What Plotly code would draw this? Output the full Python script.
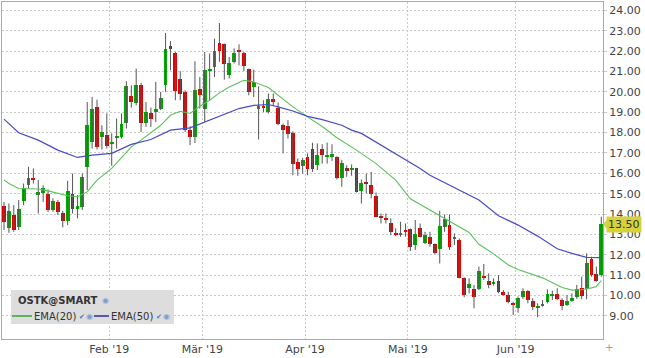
import plotly.graph_objects as go
import pandas as pd

# ---------------- data ----------------
holidays = ["2019-01-01", "2019-01-21", "2019-02-18", "2019-04-19", "2019-05-27"]
dates = [d.strftime("%Y-%m-%d") for d in
         pd.bdate_range("2018-12-31", "2019-06-26", freq="C", holidays=holidays)]

opens = [14.39, 13.30, 13.98, 13.38, 14.65, 15.42, 15.76, 14.95, 15.06, 15.01,
         14.20, 14.57, 14.06, 13.67, 15.01, 14.23, 14.36, 16.32, 17.54, 19.26,
         17.76, 17.87, 17.43, 17.74, 17.76, 18.45, 19.78, 19.43, 20.32, 18.48,
         18.97, 18.99, 19.18, 20.32, 22.24, 21.93, 20.65, 19.97, 18.12, 17.76,
         20.13, 19.18, 21.02, 21.22, 22.42, 22.33, 20.82, 21.47, 22.04, 21.91,
         21.11, 20.24, 19.18, 19.29, 18.99, 19.64, 19.21, 18.36, 18.33, 18.00,
         16.56, 16.37, 16.81, 17.19, 16.40, 17.19, 16.81, 16.79, 16.81, 15.75,
         16.24, 16.16, 16.24, 15.13, 15.58, 15.42, 14.88, 13.90, 13.82, 13.57,
         13.08, 13.00, 13.22, 13.26, 12.48, 13.30, 12.59, 12.86, 12.53, 12.28,
         13.38, 13.46, 12.79, 12.73, 10.88, 10.39, 10.31, 10.31, 10.98, 10.73,
         10.60, 10.72, 10.16, 10.03, 9.62, 9.38, 9.95, 10.24, 9.75, 9.41,
         9.50, 9.67, 10.00, 10.09, 9.78, 9.52, 9.75, 9.95, 10.36, 10.31,
         11.79, 11.06, 11.01]
highs = [14.60, 14.52, 14.44, 14.69, 15.50, 16.32, 16.24, 15.67, 15.42, 15.21,
         14.77, 14.69, 14.16, 15.63, 15.99, 14.93, 15.99, 19.50, 19.75, 19.62,
         18.36, 18.94, 17.96, 18.69, 18.94, 20.52, 20.32, 21.14, 20.44, 19.50,
         19.23, 20.49, 20.00, 22.89, 22.49, 21.96, 21.01, 20.08, 18.31, 21.50,
         20.73, 21.96, 21.88, 22.61, 23.38, 22.37, 21.71, 22.13, 22.33, 21.96,
         21.14, 21.09, 20.27, 19.59, 19.92, 19.92, 19.48, 18.45, 18.61, 18.07,
         16.73, 16.76, 16.98, 17.50, 17.47, 17.43, 17.51, 17.43, 16.84, 16.65,
         16.40, 16.44, 16.27, 15.70, 15.99, 16.07, 15.06, 14.03, 14.03, 13.79,
         13.30, 13.62, 13.54, 13.30, 13.71, 13.54, 13.13, 13.13, 12.56, 14.16,
         13.98, 13.98, 13.05, 12.81, 10.90, 10.85, 10.52, 11.42, 11.55, 11.09,
         10.85, 11.01, 10.27, 10.19, 9.70, 9.95, 10.36, 10.27, 9.87, 9.62,
         9.78, 10.31, 10.24, 10.36, 9.87, 10.03, 10.11, 10.52, 10.93, 12.07,
         11.91, 11.42, 13.87]
lows = [13.22, 13.08, 13.13, 13.22, 14.44, 15.26, 15.50, 14.03, 14.60, 14.11,
        14.11, 13.95, 13.35, 13.46, 14.03, 13.79, 14.20, 15.18, 17.22, 17.17,
        17.17, 17.22, 16.37, 17.22, 17.71, 18.20, 19.23, 19.34, 18.03, 18.28,
        18.28, 18.52, 19.10, 20.00, 21.06, 19.59, 19.59, 18.03, 17.38, 17.49,
        19.18, 18.52, 19.59, 20.73, 21.47, 20.60, 20.65, 21.39, 21.30, 21.02,
        19.83, 19.75, 17.66, 19.01, 18.94, 19.34, 18.36, 16.98, 17.71, 15.91,
        15.88, 15.99, 15.91, 16.07, 16.16, 16.48, 16.48, 16.61, 15.70, 15.34,
        15.83, 15.88, 15.06, 14.52, 15.01, 14.77, 13.84, 13.54, 13.54, 12.97,
        12.92, 12.89, 12.89, 12.19, 12.24, 12.86, 12.53, 12.40, 12.04, 11.58,
        13.13, 12.24, 12.48, 10.85, 9.92, 10.11, 9.38, 10.27, 10.77, 10.36,
        10.49, 10.11, 10.00, 9.62, 9.05, 9.16, 9.84, 9.62, 9.29, 8.94,
        9.46, 9.62, 9.78, 9.78, 9.29, 9.49, 9.70, 9.84, 9.82, 9.82,
        10.93, 10.68, 10.93]
closes = [13.62, 14.15, 13.22, 14.24, 15.26, 15.75, 15.65, 15.08, 15.26, 14.20,
          14.65, 14.11, 13.67, 15.13, 14.23, 14.39, 15.80, 18.36, 19.15, 17.30,
          18.03, 17.33, 17.54, 17.84, 18.41, 20.27, 19.50, 20.36, 18.45, 19.02,
          18.69, 19.15, 19.72, 22.12, 22.09, 20.03, 19.90, 18.12, 17.79, 20.08,
          19.83, 21.06, 21.14, 22.00, 22.00, 21.39, 21.44, 21.91, 21.94, 21.25,
          20.00, 20.46, 19.31, 19.23, 19.64, 19.50, 18.40, 18.12, 17.91, 16.48,
          16.21, 16.65, 16.19, 16.19, 16.89, 16.89, 16.89, 16.93, 15.75, 16.53,
          16.12, 16.27, 15.09, 15.53, 15.50, 15.01, 13.87, 13.82, 13.74, 13.13,
          13.02, 13.08, 13.13, 12.40, 13.02, 12.89, 12.97, 12.53, 12.07, 13.43,
          13.75, 12.40, 12.86, 10.88, 10.03, 10.57, 9.92, 11.21, 10.85, 10.52,
          10.65, 10.19, 10.03, 9.70, 9.55, 9.90, 10.23, 9.78, 9.43, 9.51,
          9.57, 10.06, 10.05, 9.83, 9.49, 9.75, 9.90, 10.31, 9.98, 11.58,
          11.01, 10.73, 13.50]

# EMA values at selected bars (bar index -> value)
ema20_idx = [0, 1, 3, 5, 7, 9, 11, 13, 15, 17, 19, 22, 26, 28, 32, 34, 36, 38, 40,
             42, 44, 46, 49, 51, 54, 56, 59, 62, 65, 68, 72, 76, 80, 83, 87, 90, 92,
             95, 97, 100, 103, 105, 110, 114, 116, 118, 120, 121, 122]
ema20_val = [15.68, 15.50, 15.26, 15.26, 15.23, 15.14, 15.01, 14.90, 14.85, 15.09,
             15.67, 16.24, 17.30, 17.63, 18.36, 18.85, 19.05, 18.94, 19.29, 19.59,
             19.95, 20.24, 20.57, 20.49, 20.21, 19.83, 19.26, 18.77, 18.30, 17.75,
             17.14, 16.48, 15.67, 14.75, 14.20, 13.81, 13.54, 13.10, 12.52, 12.05,
             11.50, 11.28, 10.87, 10.40, 10.27, 10.29, 10.38, 10.45, 10.74]
ema50_idx = [0, 3, 7, 11, 15, 18, 22, 26, 30, 34, 38, 42, 44, 48, 51, 54, 56, 59,
             62, 65, 69, 71, 73, 77, 81, 85, 87, 93, 97, 101, 105, 109, 113, 116,
             119, 122]
ema50_val = [18.66, 17.99, 17.63, 17.14, 16.78, 16.89, 16.98, 17.42, 17.66, 18.12,
             18.23, 18.61, 18.78, 19.18, 19.34, 19.38, 19.26, 19.06, 18.80, 18.64,
             18.36, 18.12, 17.96, 17.40, 16.84, 16.24, 15.91, 15.18, 14.69, 13.92,
             13.46, 12.92, 12.30, 12.07, 11.88, 11.86]

month_names = {2: "Feb '19", 3: "Mär '19", 4: "Apr '19", 5: "Mai '19", 6: "Jun '19"}
y_ticks = list(range(9, 25))
symbol = "OSTK@SMART"
last_price = closes[-1]

# ---------------- styling ----------------
FONT = "DejaVu Sans"
GREEN = "#00aa00"
RED = "#e00000"
WICK = "#555555"
GRID = "#c8c8c8"
Y_MIN, Y_MAX = 7.87, 24.41
W, H = 645, 358
ML, MR, MT, MB = 2, 42, 2, 19

n = len(dates)
xs = list(range(n))

# month boundary positions
tick_pos, tick_txt = [], []
for i in range(1, n):
    m_prev, m_cur = int(dates[i - 1][5:7]), int(dates[i][5:7])
    if m_cur != m_prev and m_cur in month_names:
        tick_pos.append(i - 0.5)
        tick_txt.append(month_names[m_cur])

fig = go.Figure()

# wicks
wx, wy = [], []
for i in xs:
    wx += [i, i, None]
    wy += [lows[i], highs[i], None]
fig.add_trace(go.Scatter(x=wx, y=wy, mode="lines", line=dict(color=WICK, width=1),
                         hoverinfo="skip", showlegend=False))

# bodies
base = [min(o, c) for o, c in zip(opens, closes)]
height = [max(abs(c - o), 0.07) for o, c in zip(opens, closes)]
colors = [GREEN if c >= o else RED for o, c in zip(opens, closes)]
fig.add_trace(go.Bar(x=xs, y=height, base=base, width=0.78,
                     marker=dict(color=colors, line=dict(width=0)),
                     showlegend=False, hoverinfo="skip"))

# EMAs
fig.add_trace(go.Scatter(x=ema20_idx, y=ema20_val, mode="lines", name="EMA(20)",
                         line=dict(color="#5cc05c", width=1.1), showlegend=False))
fig.add_trace(go.Scatter(x=ema50_idx, y=ema50_val, mode="lines", name="EMA(50)",
                         line=dict(color="#4a4ac8", width=1.2), showlegend=False))

pw = W - ML - MR
ph = H - MT - MB


def px(xp):
    return (xp - ML) / pw


def py(yp):
    return (H - MB - yp) / ph


shapes = []
annotations = []

# legend box
shapes.append(dict(type="rect", xref="paper", yref="paper", x0=px(11), x1=px(174),
                   y0=py(324), y1=py(290), fillcolor="#dddddd", line=dict(width=0),
                   layer="above"))
shapes.append(dict(type="line", xref="paper", yref="paper", x0=px(12), x1=px(32),
                   y0=py(316), y1=py(316), line=dict(color="#33a833", width=1.5),
                   layer="above"))
shapes.append(dict(type="line", xref="paper", yref="paper", x0=px(94), x1=px(109),
                   y0=py(316), y1=py(316), line=dict(color="#2c2ca0", width=1.5),
                   layer="above"))


def txt(x, y, t, size=10, color="#333333", **kw):
    annotations.append(dict(x=px(x), y=py(y), xref="paper", yref="paper", text=t,
                            showarrow=False, xanchor="left", yanchor="middle",
                            font=dict(family=FONT, size=size, color=color), **kw))


txt(15.5, 300.5, "<b>%s</b>" % symbol)
txt(100, 300.5, "◉", size=8, color="#7b9fd0")
txt(31.5, 316.5, "EMA(20)")
txt(76.5, 316.5, "✔", size=7, color="#3a78d0")
txt(84, 316.5, "◉", size=8, color="#7b9fd0")
txt(108.5, 316.5, "EMA(50)")
txt(153.5, 316.5, "✔", size=7, color="#3a78d0")
txt(161, 316.5, "◉", size=8, color="#7b9fd0")

# last price tag
tag_y = (last_price - Y_MIN) / (Y_MAX - Y_MIN)
dy = 4.5 / ph
shapes.append(dict(type="path", xref="paper", yref="paper",
                   path="M %f,%f L %f,%f L %f,%f Z" % (px(603), tag_y, px(607), tag_y + dy,
                                                       px(607), tag_y - dy),
                   fillcolor="#d6d23a", line=dict(width=0), layer="above"))
annotations.append(dict(x=px(606), y=tag_y, xref="paper", yref="paper",
                        text="%.2f" % last_price, showarrow=False, xanchor="left",
                        yanchor="middle", bgcolor="#d6d23a", borderpad=1,
                        font=dict(family=FONT, size=11, color="#333333")))
# small corner marker
txt(603, 347, "+", size=10, color="#999999")

fig.update_layout(
    width=W, height=H,
    margin=dict(l=ML, r=MR, t=MT, b=MB, autoexpand=False),
    paper_bgcolor="white", plot_bgcolor="white",
    showlegend=False, bargap=0,
    font=dict(family=FONT, size=11, color="#444444"),
    shapes=shapes, annotations=annotations,
    xaxis=dict(range=[-0.41, n - 1 + 0.35], tickvals=tick_pos, ticktext=tick_txt,
               showgrid=True, gridcolor=GRID, griddash="2px,2px", gridwidth=1,
               showline=True, linecolor="#aaaaaa", mirror=True, zeroline=False,
               automargin=False, ticks="",
               tickfont=dict(family=FONT, size=11, color="#444444")),
    yaxis=dict(range=[Y_MIN, Y_MAX], side="right", tickvals=y_ticks,
               ticktext=["%.2f" % v for v in y_ticks],
               showgrid=True, gridcolor=GRID, griddash="2px,2px", gridwidth=1,
               showline=True, linecolor="#aaaaaa", mirror=True, zeroline=False,
               automargin=False, ticks="outside", ticklen=3, tickcolor=GRID,
               tickfont=dict(family=FONT, size=11, color="#444444")),
)

fig.write_html("out.html", config={"displayModeBar": False},
               post_script="document.body.style.margin='0px';document.body.style.padding='0px';")
